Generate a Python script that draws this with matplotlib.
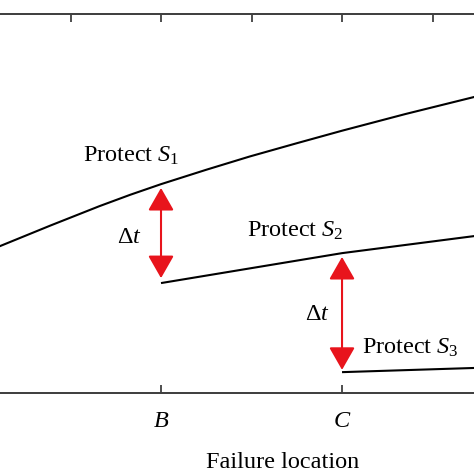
import matplotlib
matplotlib.use('Agg')
import matplotlib.pyplot as plt

plt.rcParams['font.family'] = ['Liberation Serif', 'DejaVu Serif']
plt.rcParams['mathtext.fontset'] = 'custom'
plt.rcParams['mathtext.rm'] = 'Liberation Serif'
plt.rcParams['mathtext.it'] = 'Liberation Serif:italic'

# curve data (x: failure location, B = 1, C = 2; y: operating time)
s1_x = [0.0, 0.2, 0.39, 0.66, 0.83, 1.0, 1.25, 1.49, 1.75, 2.0, 2.35, 2.73, 2.86]
s1_y = [3.66, 4.05, 4.42, 4.93, 5.23, 5.51, 5.89, 6.24, 6.59, 6.92, 7.36, 7.81, 7.96]
s2_x = [1.0, 2.0, 2.86]
s2_y = [2.90, 3.69, 4.22]
s3_x = [2.0, 2.86]
s3_y = [0.55, 0.68]

# delta-t arrows: (x, y_top, y_bottom)
arrows = [(1.0, 5.41, 3.03), (2.0, 3.59, 0.61)]

tick_pos = [1.0, 2.0]
tick_labels = ['$B$', '$C$']
top_ticks = [0.5, 1.0, 1.5, 2.0, 2.5]

FS = 17.5
SPINE = '#404040'

fig = plt.figure(figsize=(4.74, 4.74), dpi=100)
ax = fig.add_axes([-0.05, 0.1709, 1.1, 0.7996])

for xs, ys in [(s1_x, s1_y), (s2_x, s2_y), (s3_x, s3_y)]:
    ax.plot(xs, ys, color='black', lw=1.5, solid_capstyle='butt')

for x, y0, y1 in arrows:
    ax.annotate('', xy=(x, y0), xytext=(x, y1),
                arrowprops=dict(arrowstyle='<|-|>,head_length=0.7,head_width=0.4',
                                color='#e8141c', lw=1.5, shrinkA=0, shrinkB=0,
                                mutation_scale=20))

ax.text(0.569, 6.095, r'Protect $S_1$', fontsize=FS, ha='left', va='baseline')
ax.text(0.823, 3.96, r'$\Delta t$', fontsize=FS, ha='center', va='baseline')
ax.text(1.475, 4.12, r'Protect $S_2$', fontsize=FS, ha='left', va='baseline')
ax.text(1.865, 1.93, r'$\Delta t$', fontsize=FS, ha='center', va='baseline')
ax.text(2.11, 1.03, r'Protect $S_3$', fontsize=FS, ha='left', va='baseline')

ax.set_xlim(-0.0204, 2.860)
ax.set_ylim(0, 10)
ax.set_yticks([])
ax.set_xticks(tick_pos)
ax.set_xticklabels(tick_labels, fontsize=FS)
ax.tick_params(axis='x', direction='in', length=6, width=1.3, color=SPINE, pad=13)
ax.set_xlabel('Failure location', fontsize=FS)
ax.xaxis.set_label_coords(0.588, -0.155)

ax2 = ax.twiny()
ax2.set_xlim(ax.get_xlim())
ax2.set_xticks(top_ticks)
ax2.set_xticklabels([])
ax2.tick_params(axis='x', direction='in', length=6, width=1.3, color=SPINE)

for a in (ax, ax2):
    for side in ('left', 'right'):
        a.spines[side].set_visible(False)
    for side in ('top', 'bottom'):
        a.spines[side].set_color(SPINE)
        a.spines[side].set_linewidth(1.3)

fig.savefig('out.png', dpi=100)
